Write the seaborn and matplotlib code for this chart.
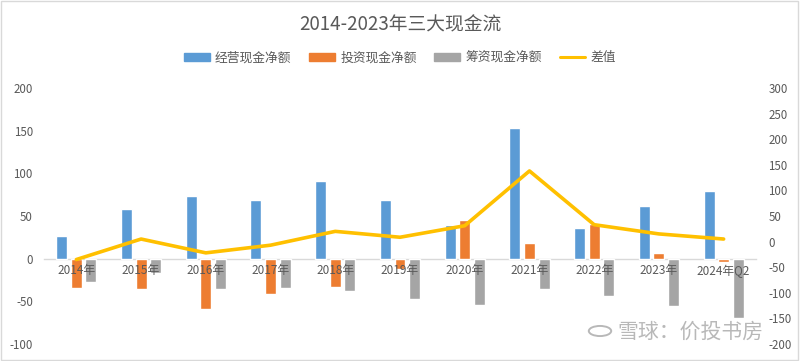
import matplotlib
matplotlib.use("Agg")
import matplotlib.pyplot as plt
import matplotlib.patches as mpatches
from matplotlib.lines import Line2D
import seaborn as sns
import pandas as pd
import numpy as np

categories = ["2014年", "2015年", "2016年", "2017年", "2018年", "2019年",
              "2020年", "2021年", "2022年", "2023年", "2024年Q2"]
operating = [27, 58, 73.5, 69, 90.5, 68.5, 39.5, 153, 36.5, 61.5, 79.5]
investing = [-34, -36, -59, -41, -33, -12, 45, 18.5, 40.5, 7, -4]
financing = [-27.5, -16.5, -36, -34, -38, -47.5, -54, -35, -44, -56, -70]
difference = [-35, 5, -22, -7, 20, 8.5, 31, 138, 33, 15, 5]

series_names = ["经营现金净额", "投资现金净额", "筹资现金净额"]
line_name = "差值"
title = "2014-2023年三大现金流"
watermark = "雪球：价投书房"

colors = ["#5B9BD5", "#ED7D31", "#A5A5A5"]
line_color = "#FFC000"
text_color = "#595959"

sns.set_theme(style="white")
plt.rcParams["font.family"] = ["Noto Sans CJK SC", "DejaVu Sans"]
plt.rcParams["axes.unicode_minus"] = False

df = pd.DataFrame({
    "category": categories * 3,
    "value": operating + investing + financing,
    "series": sum([[s] * len(categories) for s in series_names], []),
})

fig = plt.figure(figsize=(8, 3.61), dpi=100)
ax = fig.add_axes([44 / 800, 1 - 344 / 361, 712 / 800, 256 / 361])

sns.barplot(data=df, x="category", y="value", hue="series", order=categories,
            hue_order=series_names, palette=colors, width=0.675, gap=0.245,
            saturation=1, ax=ax, legend=False, zorder=1)

ax.set_axisbelow(False)
ax.set_ylim(-100, 200)
ax.set_yticks(np.arange(-100, 201, 50))
ax.set_xlim(-0.5, len(categories) - 0.5)
ax.set_xlabel("")
ax.set_ylabel("")
for s in ["top", "right", "left"]:
    ax.spines[s].set_visible(False)
ax.spines["bottom"].set_position(("data", 0))
ax.spines["bottom"].set_color("#D9D9D9")
ax.spines["bottom"].set_linewidth(1)
ax.spines["bottom"].set_zorder(0.5)
ax.tick_params(axis="x", length=0, pad=4, labelsize=8.5, labelcolor=text_color)
ax.tick_params(axis="y", length=0, pad=8, labelsize=8.3, labelcolor=text_color)
ax.grid(False)

ax2 = ax.twinx()
sns.lineplot(x=np.arange(len(categories)), y=difference, ax=ax2,
             color=line_color, linewidth=2.6, zorder=3)
ax2.set_ylim(-200, 300)
ax2.set_yticks(np.arange(-200, 301, 50))
ax2.set_xlim(-0.5, len(categories) - 0.5)
for s in ["top", "right", "left", "bottom"]:
    ax2.spines[s].set_visible(False)
ax2.tick_params(axis="y", length=0, pad=9, labelsize=8.3, labelcolor=text_color)
ax2.grid(False)

# Title
fig.text(0.5, 1 - 25 / 361, title, ha="center", va="center",
         fontsize=13.5, color=text_color)

# Legend
handles = [mpatches.Patch(color=c) for c in colors] + \
          [Line2D([0], [0], color=line_color, linewidth=2.2)]
labels = series_names + [line_name]
fig.legend(handles, labels, loc="center", bbox_to_anchor=(0.5, 1 - 58 / 361),
           ncol=4, frameon=False, fontsize=9.2, labelcolor=text_color,
           handlelength=2.0, handleheight=0.5, handletextpad=0.4,
           columnspacing=1.4)

# Watermark
fig.text(617 / 800, 1 - 332 / 361, watermark, ha="left", va="center",
         fontsize=15, color="#8A8A8A", alpha=0.6)
fig.patches.append(mpatches.Circle((600 / 800, 1 - 331 / 361), 0.014,
                                   transform=fig.transFigure, fill=False,
                                   edgecolor="#8A8A8A", alpha=0.6, linewidth=1.4))

# Chart border
fig.patches.append(mpatches.Rectangle((0.001, 0.002), 0.997, 0.995,
                                      transform=fig.transFigure, fill=False,
                                      edgecolor="#D9D9D9", linewidth=1))

fig.savefig("out.png", dpi=100)
